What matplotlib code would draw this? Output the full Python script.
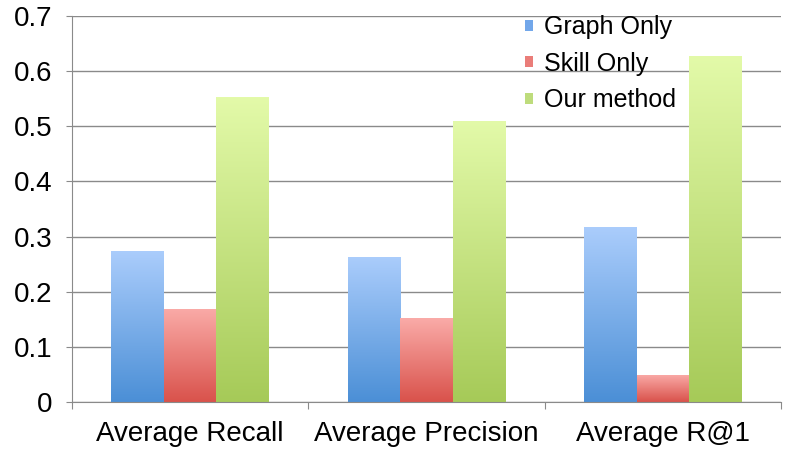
import numpy as np
import matplotlib
matplotlib.use('Agg')
import matplotlib.pyplot as plt
from matplotlib.colors import LinearSegmentedColormap

plt.rcParams['font.family'] = ['Liberation Sans', 'DejaVu Sans']

categories = ['Average Recall', 'Average Precision', 'Average R@1']
series = ['Graph Only', 'Skill Only', 'Our method']
graph_only = [0.274, 0.263, 0.318]
skill_only = [0.169, 0.152, 0.049]
our_method = [0.553, 0.510, 0.628]

# (top colour, bottom colour, legend colour) per series
grads = [('#abcdfc', '#4b8fd6', '#72a7ea'),
         ('#faaba8', '#d9524b', '#ea7d79'),
         ('#e3faa9', '#a6ca58', '#bedc7c')]

fig = plt.figure(figsize=(7.9, 4.49), dpi=100)
ax = fig.add_axes([0.0911, 0.1047, 0.8975, 0.8597])

x = np.arange(len(categories))
w = 0.2225
grad = np.linspace(1, 0, 256).reshape(-1, 1)

for i, (vals, (top, bot, lc)) in enumerate(zip([graph_only, skill_only, our_method], grads)):
    cmap = LinearSegmentedColormap.from_list(series[i], [bot, top])
    bars = ax.bar(x + (i - 1) * w, vals, w, color='none', zorder=2)
    for b in bars:
        x0, y0 = b.get_x(), b.get_y()
        im = ax.imshow(grad, cmap=cmap, aspect='auto', zorder=2,
                       extent=[x0, x0 + b.get_width(), y0, y0 + b.get_height()])
        im.set_clip_path(b)
    # legend proxy
    ax.bar(0, 0, 0, color=lc, label=series[i])

ax.set_xlim(-0.5, 2.5)
ax.set_ylim(0, 0.7)
ax.set_yticks(np.arange(0, 0.71, 0.1))
ax.set_yticklabels(['0', '0.1', '0.2', '0.3', '0.4', '0.5', '0.6', '0.7'])
ax.yaxis.grid(True, color='#8a8a8a', linewidth=1.0, zorder=0)
ax.set_axisbelow(True)

ax.set_xticks([-0.5, 0.5, 1.5, 2.5])
ax.set_xticklabels([])
ax.set_xticks(x, minor=True)
ax.set_xticklabels(categories, minor=True, fontsize=20)
ax.tick_params(axis='x', which='minor', length=0, pad=13.5)
ax.tick_params(axis='x', which='major', direction='out', length=5, color='#8a8a8a')
ax.tick_params(axis='y', direction='out', length=4.3, color='#8a8a8a', labelsize=20, pad=10)

for s in ['top', 'right']:
    ax.spines[s].set_visible(False)
for s in ['left', 'bottom']:
    ax.spines[s].set_color('#8a8a8a')

leg = ax.legend(loc='upper left', bbox_to_anchor=(525 / 790, 1 - 15 / 449),
                bbox_transform=fig.transFigure, frameon=False,
                fontsize=18, handlelength=0.3, handleheight=0.3,
                handletextpad=0.45, labelspacing=0.5, borderpad=0, borderaxespad=0)

fig.savefig('out.png', dpi=100)
